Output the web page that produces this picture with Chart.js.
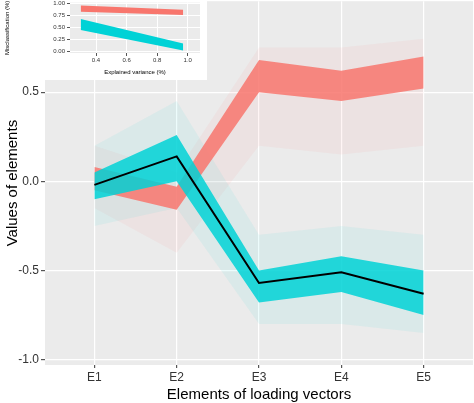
<!DOCTYPE html>
<html><head><meta charset="utf-8">
<script src="https://cdn.jsdelivr.net/npm/chart.js@4"></script>
<style>body{margin:0;background:#fff;font-family:Arial,"Liberation Sans",sans-serif;overflow:hidden}
#wrap{position:relative;width:474px;height:403px;overflow:hidden}
#main{position:absolute;left:0;top:-8px}
#inset{position:absolute;left:0;top:0;width:207px;height:80px;background:#fff;overflow:hidden}
#ins{position:absolute;left:0;top:-3px}
</style></head><body>
<div id="wrap"><canvas id="main" width="474" height="412"></canvas>
<div id="inset"><canvas id="ins" width="207" height="83"></canvas></div></div>
<script>
const categories=["E1","E2","E3","E4","E5"];
const yTicks=[-1.0,-0.5,0.0,0.5];
const meanLine=[-0.02,0.14,-0.57,-0.51,-0.63];
const redCoreHi=[0.08,-0.03,0.68,0.62,0.70];
const redCoreLo=[-0.05,-0.16,0.50,0.45,0.52];
const redFaintHi=[0.20,0.05,0.75,0.75,0.80];
const redFaintLo=[-0.15,-0.40,0.20,0.15,0.20];
const cyanCoreHi=[0.05,0.26,-0.50,-0.42,-0.50];
const cyanCoreLo=[-0.10,0.00,-0.68,-0.62,-0.75];
const cyanFaintHi=[0.20,0.45,-0.30,-0.25,-0.30];
const cyanFaintLo=[-0.25,-0.15,-0.80,-0.80,-0.85];
// inset
const insX=[0.30,0.97];
const insRedHi=[0.96,0.87];const insRedLo=[0.83,0.76];
const insCyanHi=[0.68,0.17];const insCyanLo=[0.45,0.02];

const pts=a=>a.map((v,i)=>({x:i+1,y:v}));
const RED='248,118,109',CY='0,210,214';
function band(hi,lo,col,alpha,order){
  return [{data:pts(hi),borderWidth:0,pointRadius:0,fill:'+1',backgroundColor:`rgba(${col},${alpha})`,order,tension:0},
          {data:pts(lo),borderWidth:0,pointRadius:0,fill:false,order,tension:0}];
}
const ds=[
  {data:pts(meanLine),borderColor:'#000',borderWidth:2,pointRadius:0,fill:false,order:0,tension:0},
  ...band(cyanCoreHi,cyanCoreLo,CY,0.85,1),
  ...band(redCoreHi,redCoreLo,RED,0.85,2),
  ...band(cyanFaintHi,cyanFaintLo,CY,0.07,3),
  ...band(redFaintHi,redFaintLo,RED,0.07,4)
];
const bgPlugin={id:'bg',beforeDraw(c){const a=c.chartArea,x=c.ctx;x.save();x.fillStyle='#EBEBEB';x.fillRect(a.left,a.top,a.right-a.left,a.bottom-a.top);x.restore();}};
new Chart(document.getElementById('main'),{type:'line',data:{datasets:ds},plugins:[bgPlugin],
options:{responsive:false,animation:false,layout:{padding:{top:0,right:1,bottom:0}},
plugins:{legend:{display:false},tooltip:{enabled:false}},
scales:{
x:{type:'linear',min:0.4,max:5.6,afterFit:s=>{s.height=39},
  afterBuildTicks:s=>{s.ticks=categories.map((c,i)=>({value:i+1}))},
  ticks:{callback:v=>categories[v-1],color:'#333',font:{size:12},padding:2},
  grid:{color:'#fff',lineWidth:1.2,tickLength:3,tickColor:'#555'},border:{display:false},
  title:{display:true,text:'Elements of loading vectors',color:'#000',font:{size:15},padding:{top:0,bottom:0}}},
y:{min:-1.03,max:1.01,afterFit:s=>{s.width=45},
  afterBuildTicks:s=>{s.ticks=yTicks.map(v=>({value:v}))},
  ticks:{callback:v=>v.toFixed(1),color:'#333',font:{size:12},padding:2},
  grid:{color:'#fff',lineWidth:1.2,tickLength:4,tickColor:'#555'},border:{display:false},
  title:{display:true,text:'Values of elements',color:'#000',font:{size:15},padding:{bottom:0}}}
}}});

const ip=(xs,ys)=>ys.map((v,i)=>({x:xs[i],y:v}));
function iband(hi,lo,col){return [{data:ip(insX,hi),borderWidth:0,pointRadius:0,fill:'+1',backgroundColor:`rgb(${col})`},{data:ip(insX,lo),borderWidth:0,pointRadius:0,fill:false}];}
new Chart(document.getElementById('ins'),{type:'line',data:{datasets:[...iband(insRedHi,insRedLo,RED),...iband(insCyanHi,insCyanLo,CY)]},plugins:[bgPlugin],
options:{responsive:false,animation:false,layout:{padding:{top:0,right:7}},
plugins:{legend:{display:false},tooltip:{enabled:false}},
scales:{
x:{type:'linear',min:0.23,max:1.08,afterBuildTicks:s=>{s.ticks=[0.4,0.6,0.8,1.0].map(v=>({value:v}))},afterFit:s=>{s.height=27},
  ticks:{callback:v=>v.toFixed(1),color:'#333',font:{size:6},padding:1},grid:{color:'#fff',tickLength:3,tickColor:'#555'},border:{display:false},
  title:{display:true,text:'Explained variance (%)',color:'#000',font:{size:6},padding:{top:0}}},
y:{min:-0.03,max:1.02,afterBuildTicks:s=>{s.ticks=[0,0.25,0.5,0.75,1].map(v=>({value:v}))},afterFit:s=>{s.width=70},
  ticks:{callback:v=>v.toFixed(2),color:'#333',font:{size:6},padding:2},grid:{color:'#fff',tickLength:3,tickColor:'#555'},border:{display:false},
  title:{display:true,text:'Misclassification (%)',color:'#000',font:{size:6},padding:{bottom:0}}}
}}});
</script></body></html>
